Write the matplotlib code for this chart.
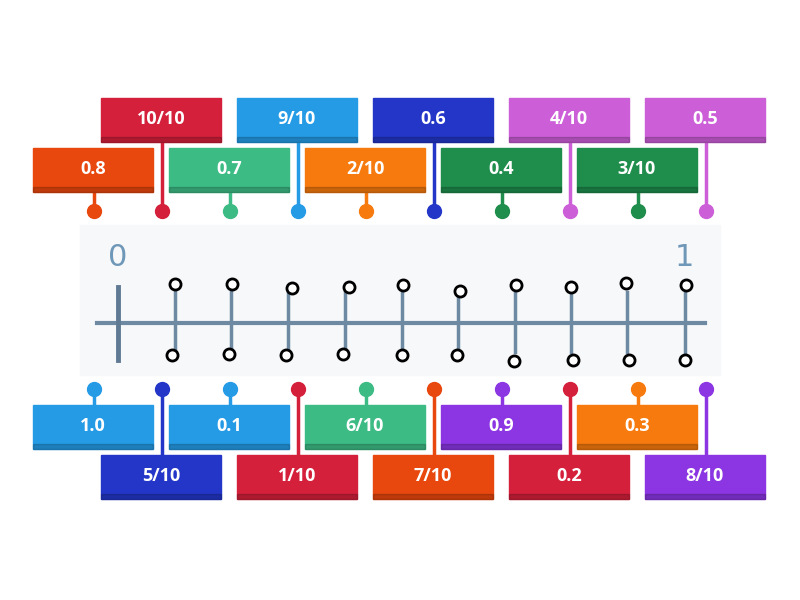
import matplotlib
matplotlib.use("Agg")
import matplotlib.pyplot as plt
from matplotlib.patches import FancyBboxPatch, Rectangle

plt.rcParams['font.family'] = ['Open Sans', 'DejaVu Sans']

RED = "#D4203B"; LBLUE = "#259BE6"; DBLUE = "#2336C8"; VIOL = "#CC5FD8"
ORED = "#E8470E"; LGREEN = "#3DBB85"; ORANGE = "#F67A0E"; DGREEN = "#1F8D4C"; PURPLE = "#8B36E2"

# top labels: (text, colour, box left, row)
top_labels = ["10/10", "9/10", "0.6", "4/10", "0.5", "0.8", "0.7", "2/10", "0.4", "3/10"]
top_colors = [RED, LBLUE, DBLUE, VIOL, VIOL, ORED, LGREEN, ORANGE, DGREEN, DGREEN]
top_left = [101, 237, 373, 509, 645, 33, 169, 305, 441, 577]
top_row = [0, 0, 0, 0, 0, 1, 1, 1, 1, 1]
top_pin = [162, 298, 434, 570, 706, 94, 230, 366, 502, 638]

bot_labels = ["1.0", "0.1", "6/10", "0.9", "0.3", "5/10", "1/10", "7/10", "0.2", "8/10"]
bot_colors = [LBLUE, LBLUE, LGREEN, PURPLE, ORANGE, DBLUE, RED, ORED, RED, PURPLE]
bot_left = [33, 169, 305, 441, 577, 101, 237, 373, 509, 645]
bot_row = [0, 0, 0, 0, 0, 1, 1, 1, 1, 1]
bot_pin = [94, 230, 366, 502, 638, 162, 298, 434, 570, 706]

tick_x = [175, 231, 288, 345, 402, 458, 515, 571, 627, 685]
top_holes = [(175, 284), (232, 284), (292, 288), (349, 287), (403, 285), (460, 291), (516, 285), (571, 287), (626, 283), (686, 285)]
bot_holes = [(172, 355), (229, 354), (286, 355), (343, 354), (402, 355), (457, 355), (514, 361), (573, 360), (629, 360), (685, 360)]

fig = plt.figure(figsize=(8, 6), dpi=100)
ax = fig.add_axes([0, 0, 1, 1])
ax.set_xlim(0, 800); ax.set_ylim(600, 0); ax.axis('off')

# number line image
ax.add_patch(Rectangle((80, 225), 640, 150, color="#F7F8FA", zorder=0))
LC = "#6E8AA3"
ax.plot([97, 705], [323, 323], color=LC, lw=3, zorder=1)
ax.plot([118, 118], [287, 360], color="#5F7A92", lw=3.5, zorder=1)
for x in tick_x:
    ax.plot([x, x], [292, 352], color=LC, lw=2.5, zorder=1)
ax.text(118, 258, "0", color="#6F98B8", fontsize=22, ha='center', va='center', family=['DejaVu Sans'])
ax.text(684, 258, "1", color="#6F98B8", fontsize=22, ha='center', va='center', family=['DejaVu Sans'])
for (x, y) in top_holes + bot_holes:
    ax.plot(x, y, 'o', ms=8, mfc='white', mec='black', mew=2, zorder=3)

W, H = 120, 44

def box(left, yc, text, col):
    ax.add_patch(Rectangle((left, yc - H / 2), W, H, color=col, zorder=4))
    ax.add_patch(Rectangle((left, yc + H / 2 - 5), W, 5, color='black', alpha=0.18, zorder=5))
    ax.text(left + W / 2, yc - 1, text, color='white', fontsize=13, fontweight='bold',
            ha='center', va='center', zorder=6)

for t, c, l, r, p in zip(top_labels, top_colors, top_left, top_row, top_pin):
    yc = 120 if r == 0 else 170
    ax.plot([p, p], [yc, 211], color=c, lw=2.5, zorder=2)
    box(l, yc, t, c)
    ax.plot(p, 211, 'o', ms=10, color=c, zorder=3)

for t, c, l, r, p in zip(bot_labels, bot_colors, bot_left, bot_row, bot_pin):
    yc = 427 if r == 0 else 477
    ax.plot([p, p], [389, yc], color=c, lw=2.5, zorder=2)
    box(l, yc, t, c)
    ax.plot(p, 389, 'o', ms=10, color=c, zorder=3)

fig.savefig("out.png", dpi=100)
